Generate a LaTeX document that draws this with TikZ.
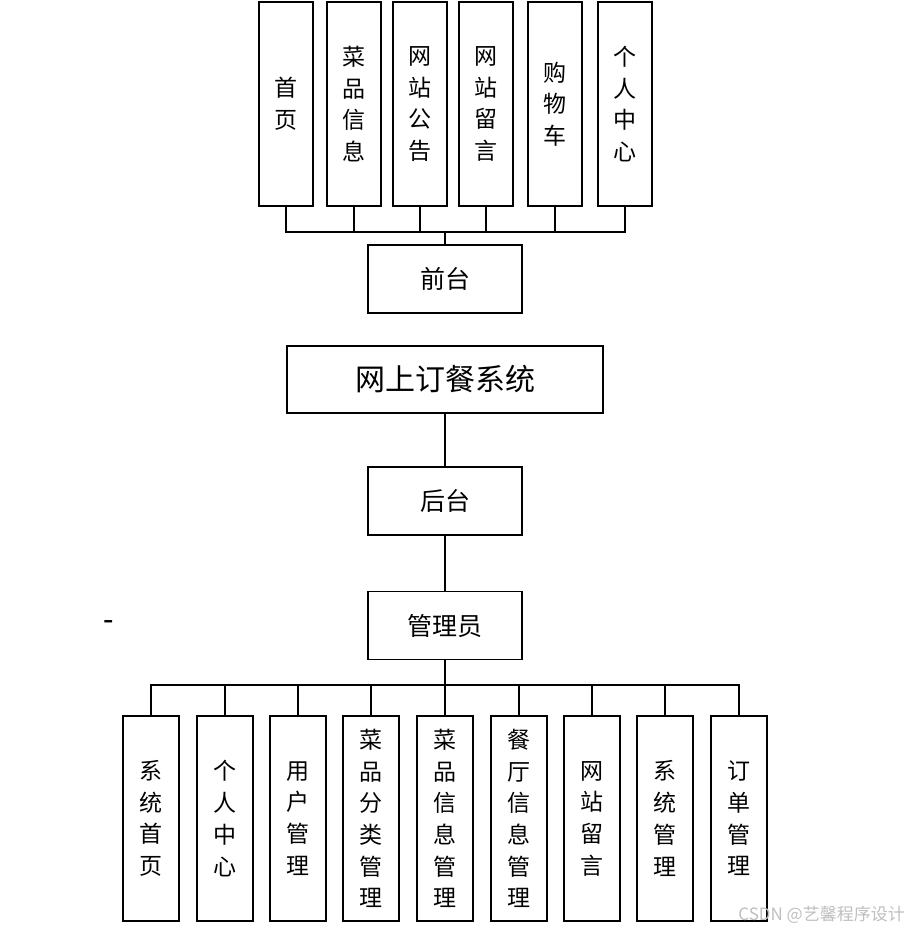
\documentclass[tikz,border=0pt]{standalone}
\usepackage{fontspec}
\newfontfamily\cjk{Noto Sans CJK SC}
\begin{document}
\begin{tikzpicture}[x=1pt,y=-1pt,
  box/.style={draw, line width=1.2pt, inner sep=0pt, align=center, fill=white},
  vbox/.style={box, font=\cjk\fontsize{23}{31.7}\selectfont},
  topbox/.style={vbox, minimum width=54pt, minimum height=204pt},
  botbox/.style={vbox, minimum width=56pt, minimum height=205pt},
  midbox/.style={box, font=\cjk\fontsize{25}{28}\selectfont, minimum width=154pt, minimum height=68pt},
  conn/.style={line width=1.3pt}]
\useasboundingbox (0,0) rectangle (907,931);
% top row
\node[topbox] (t1) at (286,104) {首\\页};
\node[topbox] (t2) at (354,104) {菜\\品\\信\\息};
\node[topbox] (t3) at (420,104) {网\\站\\公\\告};
\node[topbox] (t4) at (486,104) {网\\站\\留\\言};
\node[topbox] (t5) at (555,104) {购\\物\\车};
\node[topbox] (t6) at (625,104) {个\\人\\中\\心};
\node[midbox] (qt) at (445,279) {前台};
\node[box, font=\cjk\fontsize{30}{32}\selectfont, minimum width=316pt, minimum height=67pt] (sys) at (445,379.5) {网上订餐系统};
\node[midbox] (ht) at (445,501) {后台};
\node[midbox] (gly) at (445,625.5) {管理员};
% bottom row
\node[botbox] (b1) at (151,818.5) {系\\统\\首\\页};
\node[botbox] (b2) at (225,818.5) {个\\人\\中\\心};
\node[botbox] (b3) at (298,818.5) {用\\户\\管\\理};
\node[botbox] (b4) at (371,818.5) {菜\\品\\分\\类\\管\\理};
\node[botbox] (b5) at (445,818.5) {菜\\品\\信\\息\\管\\理};
\node[botbox] (b6) at (519,818.5) {餐\\厅\\信\\息\\管\\理};
\node[botbox] (b7) at (592,818.5) {网\\站\\留\\言};
\node[botbox] (b8) at (665,818.5) {系\\统\\管\\理};
\node[botbox] (b9) at (739,818.5) {订\\单\\管\\理};
% connectors
\coordinate (busT) at (445,232);
\coordinate (busB) at (445,685);
\foreach \n in {t1,t2,t3,t4,t5,t6} \draw[conn] (\n.south) |- (busT);
\draw[conn] (busT) -- (qt.north);
\draw[conn] (sys.south) -- (ht.north);
\draw[conn] (ht.south) -- (gly.north);
\draw[conn] (gly.south) -- (busB);
\foreach \n in {b1,b2,b3,b4,b5,b6,b7,b8,b9} \draw[conn] (busB) -| (\n.north);
% stray dash and watermark
\node[font=\bfseries\fontsize{26}{28}\selectfont] (dash) at (109,624) {-};
\node[anchor=east, text=black!25, font=\cjk\fontsize{17}{19}\selectfont, inner sep=0pt] (wm) at (905,915) {CSDN @艺馨程序设计};
\end{tikzpicture}
\end{document}
